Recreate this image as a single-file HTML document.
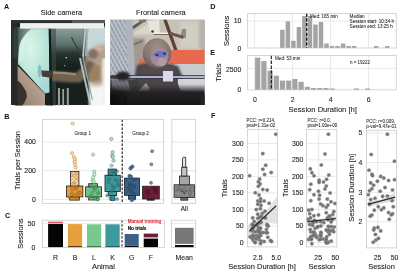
<!DOCTYPE html><html><head><meta charset="utf-8"><style>
html,body{margin:0;padding:0;background:#fff;width:400px;height:273px;overflow:hidden}
svg{display:block}
text{font-family:'Liberation Sans',Arial,sans-serif;fill:#222;stroke:#222;stroke-width:0.09px}
</style></head><body>
<svg width="400" height="273" viewBox="0 0 400 273">
<defs>
<filter id="b1" x="-20%" y="-20%" width="140%" height="140%"><feGaussianBlur stdDeviation="1"/></filter>
<filter id="b2" x="-20%" y="-20%" width="140%" height="140%"><feGaussianBlur stdDeviation="2"/></filter>
<filter id="b3" x="-30%" y="-30%" width="160%" height="160%"><feGaussianBlur stdDeviation="3.5"/></filter>
<filter id="b05"><feGaussianBlur stdDeviation="0.5"/></filter>
<clipPath id="cpA1"><rect x="11" y="20.2" width="94" height="85.3"/></clipPath>
<clipPath id="cpA2"><rect x="110.3" y="19.8" width="94.3" height="85.2"/></clipPath>
<pattern id="mesh" width="3.6" height="3.6" patternUnits="userSpaceOnUse" patternTransform="rotate(-28)">
<rect width="3.6" height="3.6" fill="#949eaa"/><rect width="1.5" height="3.6" fill="#c2c8d0"/></pattern>
<pattern id="mesh2" width="3.6" height="3.6" patternUnits="userSpaceOnUse" patternTransform="rotate(32)">
<rect width="0.9" height="3.6" fill="#c2c8d0"/></pattern>
<pattern id="hatchO" width="2.5" height="2.5" patternUnits="userSpaceOnUse" patternTransform="rotate(45)">
<rect width="2.5" height="2.5" fill="#f6e6d0"/><rect width="1" height="2.5" fill="#e0a050"/></pattern>
</defs>

<text x="4.1" y="9.1" style="font-weight:bold;font-size:7.2px;fill:#111;stroke:none">A</text>
<text x="4.3" y="118.8" style="font-weight:bold;font-size:7.2px;fill:#111;stroke:none">B</text>
<text x="5.0" y="218.3" style="font-weight:bold;font-size:7.2px;fill:#111;stroke:none">C</text>
<text x="210.3" y="9.1" style="font-weight:bold;font-size:7.2px;fill:#111;stroke:none">D</text>
<text x="210.3" y="54.8" style="font-weight:bold;font-size:7.2px;fill:#111;stroke:none">E</text>
<text x="211.1" y="117.6" style="font-weight:bold;font-size:7.2px;fill:#111;stroke:none">F</text>
<text x="40.7" y="15" style="font-size:7.4px">Side camera</text>
<text x="136" y="15.3" style="font-size:7.4px">Frontal camera</text>
<defs><linearGradient id="gMid" x1="0" y1="0" x2="0" y2="1"><stop offset="0" stop-color="#8ca29e"/><stop offset="0.45" stop-color="#5e706c"/><stop offset="0.65" stop-color="#2a3430"/><stop offset="1" stop-color="#18201c"/></linearGradient><linearGradient id="gUL" x1="0" y1="0" x2="1" y2="0"><stop offset="0" stop-color="#4a5e56"/><stop offset="0.3" stop-color="#789288"/><stop offset="1" stop-color="#a2bcb0"/></linearGradient><linearGradient id="gTan" x1="1" y1="0" x2="0" y2="1"><stop offset="0" stop-color="#c8b8ac"/><stop offset="0.5" stop-color="#b09a8a"/><stop offset="1" stop-color="#8a7464"/></linearGradient><radialGradient id="gCy" cx="0.4" cy="0.3" r="0.75"><stop offset="0" stop-color="#dcf4ea"/><stop offset="0.5" stop-color="#c0e8d8"/><stop offset="1" stop-color="#a6d8da"/></radialGradient></defs>
<g clip-path="url(#cpA1)">
<rect x="11" y="20" width="94" height="85" fill="#18201d"/>
<rect x="49" y="27" width="36" height="40" fill="url(#gMid)" filter="url(#b1)"/>
<circle cx="66.3" cy="57.8" r="0.8" fill="#d8e0dc"/><circle cx="64.7" cy="65.7" r="0.6" fill="#b8c4c0"/>
<rect x="86" y="27" width="22" height="30" fill="#c8d8da" filter="url(#b1)"/>
<rect x="89" y="80" width="20" height="28" fill="#f4f6f6" filter="url(#b1)"/>
<path d="M84 60 Q90 46 106 44 L106 84 L92 86 Q86 74 84 60 Z" fill="#ae9e8c" filter="url(#b2)"/>
<ellipse cx="98" cy="49" rx="5" ry="3" fill="#d8b0a2" filter="url(#b1)"/>
<ellipse cx="101" cy="70" rx="4" ry="10" fill="#bca88e" filter="url(#b2)"/>
<ellipse cx="93" cy="54" rx="5" ry="5" fill="#7e7268" filter="url(#b1)"/>
<path d="M86 64 Q94 62 100 66 L100 80 L90 82 Z" fill="#9c8062" filter="url(#b1)"/>
<rect x="102.5" y="58" width="4" height="48" fill="#f2f2f0" filter="url(#b1)"/>
<g filter="url(#b05)" fill="#94a09c"><rect x="58" y="88" width="2" height="18"/><rect x="62.3" y="89" width="1.8" height="17"/><rect x="66.8" y="88" width="2" height="18"/></g>
<rect x="51" y="27" width="5" height="80" fill="#3e4844" opacity="0.6" filter="url(#b05)"/>
<path d="M42 71.5 Q60 70.5 76 73 Q82 68 88 60 L94 63 Q88 78 80 82.5 Q60 83 42 78.5 Z" fill="#706250" filter="url(#b1)"/>
<path d="M44 71.8 Q60 70.5 76 73.2 L76 75.5 Q60 73 44 74 Z" fill="#9a8a70" filter="url(#b05)"/>
<path d="M84.5 28 L86.5 28 L83.8 58 L82 58 Z" fill="#b4c6c4" filter="url(#b05)"/>
<path d="M87.5 28 L88.8 28 L86 56 L84.8 56 Z" fill="#a4b6b4" filter="url(#b05)"/>
<path d="M79 58 L81 58 L91.5 105 L89.5 105 Z" fill="#b0c0be" filter="url(#b05)"/>
<path d="M82.5 58 L83.7 58 L93 100 L91.8 100 Z" fill="#98aaa8" filter="url(#b05)"/>
<path d="M70.8 37.2 L72 37 L83 57.5 L81.8 58 Z" fill="#34423e" filter="url(#b05)"/>
<path d="M14 62 L45 94 L45 106 L14 106 Z" fill="url(#gTan)" filter="url(#b05)"/>
<path d="M18.5 81 Q21 83 24 88 Q27.5 93 26.5 98 Q25 102 22 106 L16 106 L16 82 Z" fill="#3a302a" filter="url(#b05)"/>
<rect x="46" y="92" width="4" height="15" fill="#1c201e" filter="url(#b05)"/>
<rect x="17" y="27" width="32" height="38" fill="url(#gUL)"/>
<rect x="30" y="27" width="19" height="9" fill="#8ea89e" filter="url(#b1)"/>
<path d="M31 29.2 Q44 28.8 48.8 29.2 L49.6 92.5 L45 93.5 L18.2 64 Q17.8 50 20.5 42 Q24 34.5 31 29.2 Z" fill="url(#gCy)" filter="url(#b05)"/>
<path d="M30 31 Q23 37 20.5 45 Q19 54 19.5 62 L23 60 Q23 50 25.5 43 Q27.5 37 30 31 Z" fill="#d8f2e6" filter="url(#b1)"/>
<ellipse cx="39.6" cy="71" rx="1.8" ry="6.5" fill="#86bcc4" filter="url(#b05)"/>
<path d="M48.6 27 L50.8 27 L52.6 107 L50.2 107 Z" fill="#141a18"/>
<path d="M41.3 70.5 L53 71 L53 78 L42 76.5 Z" fill="#463a30" filter="url(#b05)"/>
<rect x="11" y="20" width="6.6" height="85" fill="#252b29"/>
<rect x="13" y="28" width="4.6" height="30" fill="#34403c" filter="url(#b1)"/>
<rect x="11" y="20" width="94" height="3.2" fill="#2c3234"/>
<rect x="72" y="20" width="33" height="3.2" fill="#58605e" filter="url(#b05)"/>
<rect x="20" y="23.1" width="84" height="5.5" fill="#eff1ef"/>
</g>
<defs><linearGradient id="gBot" x1="0" y1="0" x2="0" y2="1"><stop offset="0" stop-color="#2e2c2e" stop-opacity="0"/><stop offset="0.35" stop-color="#242224"/><stop offset="1" stop-color="#141414"/></linearGradient><radialGradient id="gHead" cx="0.5" cy="0.3" r="0.7"><stop offset="0" stop-color="#9e9086"/><stop offset="0.65" stop-color="#847670"/><stop offset="1" stop-color="#62565a"/></radialGradient></defs>
<g clip-path="url(#cpA2)">
<rect x="110" y="19" width="96" height="88" fill="#aaa298"/>
<rect x="130" y="18" width="76" height="34" fill="#c8c2b6" filter="url(#b1)"/>
<rect x="180" y="22" width="18" height="26" fill="#d2cec6" filter="url(#b1)"/>
<rect x="200" y="18" width="6" height="33" fill="#b2b2ae" filter="url(#b1)"/>
<path d="M182 29 L186 29 L186 38 L180 38 Z" fill="#8e8a80" filter="url(#b05)"/>
<path d="M131 27 L144 19 L148 19 L133 29.5 Z" fill="#5e5a50" filter="url(#b05)"/>
<path d="M138 19 L146 19 L146 22 L140 23 Z" fill="#7a766a" filter="url(#b05)"/>
<path d="M131 34.5 L148 24 L150 25 L149 34.5 Z" fill="#dad6c6" filter="url(#b05)"/>
<path d="M147.5 21 L159 20 L160 33 L150 34 Z" fill="#e8e4dc" filter="url(#b05)"/>
<circle cx="152.5" cy="31.5" r="1.3" fill="#3a3630"/>
<rect x="154" y="32.6" width="22" height="1.5" fill="#f0f0f0"/>
<rect x="154" y="34.1" width="22" height="0.8" fill="#5a504a"/>
<path d="M163 19 L166.5 19 L177.5 50 L174 50 Z" fill="#5a4238" filter="url(#b05)"/>
<path d="M170 31.5 L184 36 L183 39 L169 34.5 Z" fill="#6e564c" filter="url(#b05)"/>
<rect x="131" y="38" width="14" height="34" fill="#a29a92" filter="url(#b1)"/>
<path d="M132 44 L142 40 L143 42 L133 46 Z" fill="#7a746c" filter="url(#b05)"/>
<rect x="169.5" y="50" width="36" height="14" fill="#e76a4f" filter="url(#b05)"/>
<rect x="139" y="59.5" width="6" height="6" fill="#e0704e" filter="url(#b05)"/>
<rect x="174" y="64" width="32" height="11" fill="#c8cccc" filter="url(#b05)"/>
<path d="M110 19 L126 19 L128 62 L134 62 L134 76 L110 80 Z" fill="url(#mesh)"/>
<path d="M110 19 L126 19 L128 62 L134 62 L134 76 L110 80 Z" fill="url(#mesh2)" opacity="0.5"/>
<path d="M125.5 19 L132.5 19 L135 74 L128 74 Z" fill="#aeb4ba" filter="url(#b05)"/>
<path d="M137 65 Q156 60 178 66 L184 80 L188 100 L132 100 L134 80 Z" fill="#4a4448" filter="url(#b1)"/>
<path d="M140 66 Q157 62 174 66 L176 74 L140 74 Z" fill="#544c4e" filter="url(#b1)"/>
<ellipse cx="157" cy="53.5" rx="14.2" ry="15.2" fill="url(#gHead)" filter="url(#b05)"/>
<ellipse cx="159.5" cy="57" rx="9" ry="9.5" fill="#a08a96" filter="url(#b05)"/>
<ellipse cx="160" cy="54.3" rx="6.8" ry="3" fill="#6e72bc" filter="url(#b05)"/>
<ellipse cx="162" cy="62" rx="4.5" ry="4" fill="#b69aa2" filter="url(#b05)"/>
<ellipse cx="157" cy="55" rx="1.6" ry="1" fill="#22285a"/>
<ellipse cx="164.5" cy="53.6" rx="1.6" ry="1" fill="#22285a"/>
<path d="M178 79 L206 79 L206 91 L181 91 Q177 85 178 79 Z" fill="#d0d4d8" filter="url(#b05)"/>
<rect x="108" y="79" width="30" height="22" fill="#3e3c3e" filter="url(#b1)"/>
<path d="M111 79 L128 79 L130 91 L113 91 Z" fill="url(#mesh)" opacity="0.45" filter="url(#b05)"/>
<path d="M138.5 91 L146 83 L149.5 88 L148 91.5 Z" fill="#a8a092" filter="url(#b05)"/>
<rect x="108" y="84" width="100" height="24" fill="url(#gBot)"/>
<ellipse cx="112" cy="101" rx="12" ry="10" fill="#101010" filter="url(#b3)"/>
<rect x="200" y="95" width="8" height="12" fill="#202020" filter="url(#b1)"/>
<rect x="110" y="75.2" width="96" height="3.6" fill="#3a3a46" filter="url(#b05)"/>
<rect x="126" y="76.1" width="80" height="1.8" fill="#bcc0e0"/>
<rect x="163" y="71" width="10" height="10.5" fill="#d8d8e8" filter="url(#b05)"/>
<ellipse cx="123" cy="76" rx="7" ry="4.5" fill="#262426" filter="url(#b1)"/>
</g>
<line x1="254.6" y1="13.5" x2="254.6" y2="48.0" stroke="#dadada" stroke-width="0.6"/>
<line x1="292.6" y1="13.5" x2="292.6" y2="48.0" stroke="#dadada" stroke-width="0.6"/>
<line x1="330.6" y1="13.5" x2="330.6" y2="48.0" stroke="#dadada" stroke-width="0.6"/>
<line x1="368.6" y1="13.5" x2="368.6" y2="48.0" stroke="#dadada" stroke-width="0.6"/>
<line x1="247.7" y1="21.1" x2="396.2" y2="21.1" stroke="#dadada" stroke-width="0.6"/>
<rect x="280.10" y="29.8" width="4.5" height="18.20" fill="#a4a4a4"/>
<rect x="285.62" y="21.4" width="4.5" height="26.60" fill="#a4a4a4"/>
<rect x="291.14" y="40.8" width="4.5" height="7.20" fill="#a4a4a4"/>
<rect x="296.66" y="27.0" width="4.5" height="21.00" fill="#a4a4a4"/>
<rect x="302.18" y="16.0" width="4.5" height="32.00" fill="#a4a4a4"/>
<rect x="307.70" y="16.0" width="4.5" height="32.00" fill="#a4a4a4"/>
<rect x="313.22" y="24.5" width="4.5" height="23.50" fill="#a4a4a4"/>
<rect x="318.74" y="22.0" width="4.5" height="26.00" fill="#a4a4a4"/>
<rect x="324.26" y="43.5" width="4.5" height="4.50" fill="#a4a4a4"/>
<rect x="329.78" y="46" width="4.5" height="2.00" fill="#a4a4a4"/>
<rect x="335.30" y="46" width="4.5" height="2.00" fill="#a4a4a4"/>
<rect x="340.82" y="43.5" width="4.5" height="4.50" fill="#a4a4a4"/>
<rect x="346.34" y="46" width="4.5" height="2.00" fill="#a4a4a4"/>
<rect x="351.86" y="46" width="4.5" height="2.00" fill="#a4a4a4"/>
<rect x="373.94" y="46" width="4.5" height="2.00" fill="#a4a4a4"/>
<rect x="384.98" y="46" width="4.5" height="2.00" fill="#a4a4a4"/>
<line x1="306.7" y1="13.5" x2="306.7" y2="48.0" stroke="#111" stroke-width="1.35" stroke-dasharray="3.2,1.6"/>
<rect x="247.7" y="13.5" width="148.5" height="34.5" fill="none" stroke="#c4c4c4" stroke-width="0.7"/>
<text x="310.0" y="18.4" style="font-size:4.6px;stroke-width:0.05px" text-anchor="start" >Med: 165 min</text>
<text x="349.6" y="18.0" style="font-size:4.6px;stroke-width:0.05px" text-anchor="start" >Median</text>
<text x="349.6" y="22.9" style="font-size:4.6px;stroke-width:0.05px" text-anchor="start" >Session start: 10:34 h</text>
<text x="349.6" y="27.8" style="font-size:4.6px;stroke-width:0.05px" text-anchor="start" >Session end: 13:25 h</text>
<text x="241.3" y="23.3" style="font-size:6.9px" text-anchor="end" >10</text>
<text x="241.3" y="50.7" style="font-size:6.9px" text-anchor="end" >0</text>
<text x="0" y="0" style="font-size:7.5px" text-anchor="middle" transform="translate(226.4,30.9) rotate(-90)" dy="0.36em">Sessions</text>
<line x1="254.6" y1="55.6" x2="254.6" y2="89.9" stroke="#dadada" stroke-width="0.6"/>
<line x1="292.6" y1="55.6" x2="292.6" y2="89.9" stroke="#dadada" stroke-width="0.6"/>
<line x1="330.6" y1="55.6" x2="330.6" y2="89.9" stroke="#dadada" stroke-width="0.6"/>
<line x1="368.6" y1="55.6" x2="368.6" y2="89.9" stroke="#dadada" stroke-width="0.6"/>
<line x1="247.7" y1="68.4" x2="396.2" y2="68.4" stroke="#dadada" stroke-width="0.6"/>
<rect x="255.10" y="57.6" width="5.2" height="32.30" fill="#a4a4a4"/>
<rect x="261.30" y="61.1" width="5.2" height="28.80" fill="#a4a4a4"/>
<rect x="267.50" y="70.8" width="5.2" height="19.10" fill="#a4a4a4"/>
<rect x="273.70" y="75.7" width="5.2" height="14.20" fill="#a4a4a4"/>
<rect x="279.90" y="80.6" width="5.2" height="9.30" fill="#a4a4a4"/>
<rect x="286.10" y="80.6" width="5.2" height="9.30" fill="#a4a4a4"/>
<rect x="292.30" y="79.0" width="5.2" height="10.90" fill="#a4a4a4"/>
<rect x="298.50" y="81.8" width="5.2" height="8.10" fill="#a4a4a4"/>
<rect x="304.70" y="86.8" width="5.2" height="3.10" fill="#a4a4a4"/>
<rect x="310.90" y="88.0" width="5.2" height="1.90" fill="#a4a4a4"/>
<rect x="317.10" y="88.0" width="5.2" height="1.90" fill="#a4a4a4"/>
<rect x="323.30" y="88.0" width="5.2" height="1.90" fill="#a4a4a4"/>
<rect x="329.50" y="88.5" width="5.2" height="1.40" fill="#a4a4a4"/>
<rect x="354" y="88.5" width="5" height="1.4" fill="#a4a4a4"/>
<rect x="365" y="88.5" width="5" height="1.4" fill="#a4a4a4"/>
<line x1="271.3" y1="55.6" x2="271.3" y2="89.9" stroke="#111" stroke-width="1.1" stroke-dasharray="3.5,1.4"/>
<rect x="247.7" y="55.6" width="148.5" height="34.300000000000004" fill="none" stroke="#c4c4c4" stroke-width="0.7"/>
<text x="275.0" y="59.7" style="font-size:4.6px;stroke-width:0.05px" text-anchor="start" >Med: 53 min</text>
<text x="349.9" y="64.4" style="font-size:4.5px;stroke-width:0.05px" text-anchor="start" >n = 19222</text>
<text x="241.3" y="71.5" style="font-size:6.9px" text-anchor="end" >2500</text>
<text x="241.3" y="92.0" style="font-size:6.9px" text-anchor="end" >0</text>
<text x="0" y="0" style="font-size:7.5px" text-anchor="middle" transform="translate(218.6,72.6) rotate(-90)" dy="0.36em">Trials</text>
<text x="254.8" y="101.5" style="font-size:6.9px" text-anchor="middle" >0</text>
<text x="292.6" y="101.5" style="font-size:6.9px" text-anchor="middle" >2</text>
<text x="330.6" y="101.5" style="font-size:6.9px" text-anchor="middle" >4</text>
<text x="368.6" y="101.5" style="font-size:6.9px" text-anchor="middle" >6</text>
<text x="322.7" y="112.2" style="font-size:7.6px" text-anchor="middle" >Session Duration [h]</text>
<line x1="42.3" y1="142.0" x2="163.5" y2="142.0" stroke="#dadada" stroke-width="0.6"/>
<line x1="42.3" y1="170.7" x2="163.5" y2="170.7" stroke="#dadada" stroke-width="0.6"/>
<line x1="42.3" y1="199.4" x2="163.5" y2="199.4" stroke="#dadada" stroke-width="0.6"/>
<line x1="171.9" y1="142.0" x2="195.7" y2="142.0" stroke="#dadada" stroke-width="0.6"/>
<line x1="171.9" y1="170.7" x2="195.7" y2="170.7" stroke="#dadada" stroke-width="0.6"/>
<line x1="171.9" y1="199.4" x2="195.7" y2="199.4" stroke="#dadada" stroke-width="0.6"/>
<text x="35.8" y="144.4" style="font-size:6.9px" text-anchor="end" >400</text>
<text x="35.8" y="173.1" style="font-size:6.9px" text-anchor="end" >200</text>
<text x="35.8" y="201.7" style="font-size:6.9px" text-anchor="end" >0</text>
<text x="0" y="0" style="font-size:7.4px" text-anchor="middle" transform="translate(17.4,160.5) rotate(-90)" dy="0.36em">Trials per Session</text>
<text x="82.7" y="135" style="font-size:4.6px;stroke-width:0.05px" text-anchor="middle" >Group 1</text>
<text x="140.6" y="135" style="font-size:4.6px;stroke-width:0.05px" text-anchor="middle" >Group 2</text>
<line x1="122.2" y1="119.6" x2="122.2" y2="203.3" stroke="#1a1a1a" stroke-width="1.1" stroke-dasharray="2.3,1.7"/>
<rect x="69.6" y="196.9" width="9.70" height="3.20" fill="#e39a3e" stroke="#1e1e1e" stroke-width="0.8"/>
<rect x="66.4" y="186.0" width="16.50" height="10.90" fill="#e39a3e" stroke="#1e1e1e" stroke-width="0.8"/>
<rect x="70.5" y="171.4" width="8.4" height="14.6" fill="url(#hatchO)" stroke="#1e1e1e" stroke-width="0.8"/>
<circle cx="71.72" cy="193.71" r="1.5" fill="#d88a2a" stroke="#8a5010" stroke-width="0.5" opacity="0.7"/>
<circle cx="73.17" cy="194.47" r="1.5" fill="#d88a2a" stroke="#8a5010" stroke-width="0.5" opacity="0.7"/>
<circle cx="75.98" cy="187.63" r="1.5" fill="#d88a2a" stroke="#8a5010" stroke-width="0.5" opacity="0.7"/>
<circle cx="69.24" cy="197.44" r="1.5" fill="#d88a2a" stroke="#8a5010" stroke-width="0.5" opacity="0.7"/>
<circle cx="71.95" cy="189.78" r="1.5" fill="#d88a2a" stroke="#8a5010" stroke-width="0.5" opacity="0.7"/>
<circle cx="80.05" cy="192.77" r="1.5" fill="#d88a2a" stroke="#8a5010" stroke-width="0.5" opacity="0.7"/>
<circle cx="78.30" cy="192.85" r="1.5" fill="#d88a2a" stroke="#8a5010" stroke-width="0.5" opacity="0.7"/>
<circle cx="76.13" cy="188.71" r="1.5" fill="#d88a2a" stroke="#8a5010" stroke-width="0.5" opacity="0.7"/>
<circle cx="76.08" cy="197.82" r="1.5" fill="#d88a2a" stroke="#8a5010" stroke-width="0.5" opacity="0.7"/>
<circle cx="74.85" cy="196.21" r="1.5" fill="#d88a2a" stroke="#8a5010" stroke-width="0.5" opacity="0.7"/>
<circle cx="76.49" cy="187.61" r="1.5" fill="#d88a2a" stroke="#8a5010" stroke-width="0.5" opacity="0.7"/>
<circle cx="77.44" cy="194.31" r="1.5" fill="#d88a2a" stroke="#8a5010" stroke-width="0.5" opacity="0.7"/>
<circle cx="72.41" cy="187.19" r="1.5" fill="#d88a2a" stroke="#8a5010" stroke-width="0.5" opacity="0.7"/>
<circle cx="78.62" cy="192.80" r="1.5" fill="#d88a2a" stroke="#8a5010" stroke-width="0.5" opacity="0.7"/>
<circle cx="77.01" cy="197.96" r="1.5" fill="#d88a2a" stroke="#8a5010" stroke-width="0.5" opacity="0.7"/>
<circle cx="76.96" cy="198.50" r="1.5" fill="#d88a2a" stroke="#8a5010" stroke-width="0.5" opacity="0.7"/>
<circle cx="74.07" cy="182.91" r="1.5" fill="#e8b070" stroke="#c07828" stroke-width="0.5" opacity="0.7"/>
<circle cx="74.32" cy="184.66" r="1.5" fill="#e8b070" stroke="#c07828" stroke-width="0.5" opacity="0.7"/>
<circle cx="76.49" cy="173.77" r="1.5" fill="#e8b070" stroke="#c07828" stroke-width="0.5" opacity="0.7"/>
<circle cx="72.78" cy="175.32" r="1.5" fill="#e8b070" stroke="#c07828" stroke-width="0.5" opacity="0.7"/>
<circle cx="76.93" cy="178.17" r="1.5" fill="#e8b070" stroke="#c07828" stroke-width="0.5" opacity="0.7"/>
<circle cx="72.70" cy="123.60" r="1.6" fill="#f6e2c8" stroke="#d89440" stroke-width="0.7" opacity="1"/>
<circle cx="72.10" cy="153.20" r="1.6" fill="#f6e2c8" stroke="#d89440" stroke-width="0.7" opacity="1"/>
<circle cx="73.90" cy="157.10" r="1.6" fill="#f6e2c8" stroke="#d89440" stroke-width="0.7" opacity="1"/>
<circle cx="75.00" cy="159.40" r="1.6" fill="#f6e2c8" stroke="#d89440" stroke-width="0.7" opacity="1"/>
<circle cx="74.60" cy="161.80" r="1.6" fill="#f6e2c8" stroke="#d89440" stroke-width="0.7" opacity="1"/>
<circle cx="75.00" cy="164.40" r="1.6" fill="#f6e2c8" stroke="#d89440" stroke-width="0.7" opacity="1"/>
<circle cx="75.70" cy="167.50" r="1.6" fill="#f6e2c8" stroke="#d89440" stroke-width="0.7" opacity="1"/>
<rect x="88.7" y="196.9" width="8.80" height="3.10" fill="#72c288" stroke="#1e1e1e" stroke-width="0.8"/>
<rect x="85.6" y="186.8" width="15.90" height="10.10" fill="#72c288" stroke="#1e1e1e" stroke-width="0.8"/>
<rect x="88.7" y="183.7" width="8.80" height="3.10" fill="#72c288" stroke="#1e1e1e" stroke-width="0.8"/>
<circle cx="95.12" cy="189.02" r="1.5" fill="#5cb074" stroke="#2a7040" stroke-width="0.5" opacity="0.7"/>
<circle cx="93.69" cy="190.29" r="1.5" fill="#5cb074" stroke="#2a7040" stroke-width="0.5" opacity="0.7"/>
<circle cx="91.81" cy="193.28" r="1.5" fill="#5cb074" stroke="#2a7040" stroke-width="0.5" opacity="0.7"/>
<circle cx="94.61" cy="198.06" r="1.5" fill="#5cb074" stroke="#2a7040" stroke-width="0.5" opacity="0.7"/>
<circle cx="95.78" cy="198.43" r="1.5" fill="#5cb074" stroke="#2a7040" stroke-width="0.5" opacity="0.7"/>
<circle cx="97.88" cy="199.36" r="1.5" fill="#5cb074" stroke="#2a7040" stroke-width="0.5" opacity="0.7"/>
<circle cx="95.66" cy="186.95" r="1.5" fill="#5cb074" stroke="#2a7040" stroke-width="0.5" opacity="0.7"/>
<circle cx="97.93" cy="198.97" r="1.5" fill="#5cb074" stroke="#2a7040" stroke-width="0.5" opacity="0.7"/>
<circle cx="98.46" cy="193.04" r="1.5" fill="#5cb074" stroke="#2a7040" stroke-width="0.5" opacity="0.7"/>
<circle cx="96.17" cy="187.67" r="1.5" fill="#5cb074" stroke="#2a7040" stroke-width="0.5" opacity="0.7"/>
<circle cx="97.58" cy="193.10" r="1.5" fill="#5cb074" stroke="#2a7040" stroke-width="0.5" opacity="0.7"/>
<circle cx="91.02" cy="185.45" r="1.5" fill="#5cb074" stroke="#2a7040" stroke-width="0.5" opacity="0.7"/>
<circle cx="97.85" cy="199.35" r="1.5" fill="#5cb074" stroke="#2a7040" stroke-width="0.5" opacity="0.7"/>
<circle cx="88.66" cy="196.51" r="1.5" fill="#5cb074" stroke="#2a7040" stroke-width="0.5" opacity="0.7"/>
<circle cx="92.53" cy="186.76" r="1.5" fill="#5cb074" stroke="#2a7040" stroke-width="0.5" opacity="0.7"/>
<circle cx="91.13" cy="196.03" r="1.5" fill="#5cb074" stroke="#2a7040" stroke-width="0.5" opacity="0.7"/>
<circle cx="93.10" cy="154.60" r="1.6" fill="#d4ecd8" stroke="#70b080" stroke-width="0.7" opacity="1"/>
<circle cx="94.20" cy="171.70" r="1.6" fill="#d4ecd8" stroke="#70b080" stroke-width="0.7" opacity="1"/>
<circle cx="94.40" cy="174.80" r="1.6" fill="#d4ecd8" stroke="#70b080" stroke-width="0.7" opacity="1"/>
<circle cx="93.20" cy="177.30" r="1.6" fill="#d4ecd8" stroke="#70b080" stroke-width="0.7" opacity="1"/>
<circle cx="92.60" cy="180.20" r="1.6" fill="#d4ecd8" stroke="#70b080" stroke-width="0.7" opacity="1"/>
<circle cx="93.80" cy="181.70" r="1.6" fill="#d4ecd8" stroke="#70b080" stroke-width="0.7" opacity="1"/>
<rect x="110.2" y="195.6" width="4.70" height="4.70" fill="#3f9a9d" stroke="#1e1e1e" stroke-width="0.8"/>
<rect x="108.1" y="191.5" width="8.60" height="4.10" fill="#3f9a9d" stroke="#1e1e1e" stroke-width="0.8"/>
<rect x="105.0" y="175.2" width="15.30" height="16.30" fill="#3f9a9d" stroke="#1e1e1e" stroke-width="0.8"/>
<rect x="108.1" y="169.1" width="8.20" height="6.10" fill="#3f9a9d" stroke="#1e1e1e" stroke-width="0.8"/>
<circle cx="117.07" cy="171.30" r="1.5" fill="#348a8c" stroke="#1a5658" stroke-width="0.5" opacity="0.7"/>
<circle cx="113.97" cy="171.33" r="1.5" fill="#348a8c" stroke="#1a5658" stroke-width="0.5" opacity="0.7"/>
<circle cx="115.22" cy="179.76" r="1.5" fill="#348a8c" stroke="#1a5658" stroke-width="0.5" opacity="0.7"/>
<circle cx="117.17" cy="198.93" r="1.5" fill="#348a8c" stroke="#1a5658" stroke-width="0.5" opacity="0.7"/>
<circle cx="112.67" cy="199.46" r="1.5" fill="#348a8c" stroke="#1a5658" stroke-width="0.5" opacity="0.7"/>
<circle cx="110.32" cy="172.27" r="1.5" fill="#348a8c" stroke="#1a5658" stroke-width="0.5" opacity="0.7"/>
<circle cx="113.80" cy="170.93" r="1.5" fill="#348a8c" stroke="#1a5658" stroke-width="0.5" opacity="0.7"/>
<circle cx="108.97" cy="182.03" r="1.5" fill="#348a8c" stroke="#1a5658" stroke-width="0.5" opacity="0.7"/>
<circle cx="113.93" cy="174.61" r="1.5" fill="#348a8c" stroke="#1a5658" stroke-width="0.5" opacity="0.7"/>
<circle cx="107.11" cy="195.60" r="1.5" fill="#348a8c" stroke="#1a5658" stroke-width="0.5" opacity="0.7"/>
<circle cx="110.37" cy="198.28" r="1.5" fill="#348a8c" stroke="#1a5658" stroke-width="0.5" opacity="0.7"/>
<circle cx="117.36" cy="181.14" r="1.5" fill="#348a8c" stroke="#1a5658" stroke-width="0.5" opacity="0.7"/>
<circle cx="112.12" cy="185.34" r="1.5" fill="#348a8c" stroke="#1a5658" stroke-width="0.5" opacity="0.7"/>
<circle cx="114.33" cy="187.57" r="1.5" fill="#348a8c" stroke="#1a5658" stroke-width="0.5" opacity="0.7"/>
<circle cx="113.31" cy="188.29" r="1.5" fill="#348a8c" stroke="#1a5658" stroke-width="0.5" opacity="0.7"/>
<circle cx="117.89" cy="184.96" r="1.5" fill="#348a8c" stroke="#1a5658" stroke-width="0.5" opacity="0.7"/>
<circle cx="111.77" cy="191.25" r="1.5" fill="#348a8c" stroke="#1a5658" stroke-width="0.5" opacity="0.7"/>
<circle cx="109.45" cy="178.88" r="1.5" fill="#348a8c" stroke="#1a5658" stroke-width="0.5" opacity="0.7"/>
<circle cx="118.33" cy="185.37" r="1.5" fill="#348a8c" stroke="#1a5658" stroke-width="0.5" opacity="0.7"/>
<circle cx="113.18" cy="170.34" r="1.5" fill="#348a8c" stroke="#1a5658" stroke-width="0.5" opacity="0.7"/>
<circle cx="111.30" cy="138.90" r="1.6" fill="#c0d8d8" stroke="#5a9698" stroke-width="0.7" opacity="1"/>
<circle cx="112.60" cy="152.20" r="1.6" fill="#c0d8d8" stroke="#5a9698" stroke-width="0.7" opacity="1"/>
<circle cx="112.20" cy="155.40" r="1.6" fill="#c0d8d8" stroke="#5a9698" stroke-width="0.7" opacity="1"/>
<circle cx="112.80" cy="157.00" r="1.6" fill="#c0d8d8" stroke="#5a9698" stroke-width="0.7" opacity="1"/>
<circle cx="113.50" cy="160.50" r="1.6" fill="#c0d8d8" stroke="#5a9698" stroke-width="0.7" opacity="1"/>
<circle cx="111.50" cy="165.60" r="1.6" fill="#c0d8d8" stroke="#5a9698" stroke-width="0.7" opacity="1"/>
<rect x="128.4" y="195.3" width="7.20" height="3.90" fill="#3c6187" stroke="#1e1e1e" stroke-width="0.8"/>
<rect x="124.4" y="178.1" width="15.20" height="17.20" fill="#3c6187" stroke="#1e1e1e" stroke-width="0.8"/>
<circle cx="130.90" cy="190.72" r="1.5" fill="#355a80" stroke="#1c3450" stroke-width="0.5" opacity="0.7"/>
<circle cx="125.76" cy="191.47" r="1.5" fill="#355a80" stroke="#1c3450" stroke-width="0.5" opacity="0.7"/>
<circle cx="133.72" cy="179.86" r="1.5" fill="#355a80" stroke="#1c3450" stroke-width="0.5" opacity="0.7"/>
<circle cx="133.66" cy="188.34" r="1.5" fill="#355a80" stroke="#1c3450" stroke-width="0.5" opacity="0.7"/>
<circle cx="134.33" cy="185.97" r="1.5" fill="#355a80" stroke="#1c3450" stroke-width="0.5" opacity="0.7"/>
<circle cx="134.69" cy="194.02" r="1.5" fill="#355a80" stroke="#1c3450" stroke-width="0.5" opacity="0.7"/>
<circle cx="125.79" cy="179.87" r="1.5" fill="#355a80" stroke="#1c3450" stroke-width="0.5" opacity="0.7"/>
<circle cx="134.29" cy="198.73" r="1.5" fill="#355a80" stroke="#1c3450" stroke-width="0.5" opacity="0.7"/>
<circle cx="128.76" cy="188.14" r="1.5" fill="#355a80" stroke="#1c3450" stroke-width="0.5" opacity="0.7"/>
<circle cx="133.20" cy="185.29" r="1.5" fill="#355a80" stroke="#1c3450" stroke-width="0.5" opacity="0.7"/>
<circle cx="130.23" cy="185.13" r="1.5" fill="#355a80" stroke="#1c3450" stroke-width="0.5" opacity="0.7"/>
<circle cx="130.30" cy="191.05" r="1.5" fill="#355a80" stroke="#1c3450" stroke-width="0.5" opacity="0.7"/>
<circle cx="129.41" cy="186.48" r="1.5" fill="#355a80" stroke="#1c3450" stroke-width="0.5" opacity="0.7"/>
<circle cx="135.54" cy="179.16" r="1.5" fill="#355a80" stroke="#1c3450" stroke-width="0.5" opacity="0.7"/>
<circle cx="132.90" cy="193.97" r="1.5" fill="#355a80" stroke="#1c3450" stroke-width="0.5" opacity="0.7"/>
<circle cx="129.53" cy="183.25" r="1.5" fill="#355a80" stroke="#1c3450" stroke-width="0.5" opacity="0.7"/>
<circle cx="132.30" cy="166.60" r="1.7" fill="#4a6e94" stroke="#2a4a6a" stroke-width="0.6" opacity="1"/>
<circle cx="130.60" cy="168.30" r="1.7" fill="#4a6e94" stroke="#2a4a6a" stroke-width="0.6" opacity="1"/>
<circle cx="129.60" cy="176.00" r="1.7" fill="#4a6e94" stroke="#2a4a6a" stroke-width="0.6" opacity="1"/>
<circle cx="131.00" cy="176.80" r="1.7" fill="#4a6e94" stroke="#2a4a6a" stroke-width="0.6" opacity="1"/>
<circle cx="131.80" cy="200.00" r="1.7" fill="#4a6e94" stroke="#2a4a6a" stroke-width="0.6" opacity="1"/>
<rect x="147.2" y="199.0" width="7.00" height="1.20" fill="#6d1e3d" stroke="#1e1e1e" stroke-width="0.8"/>
<rect x="142.6" y="186.2" width="16.70" height="12.80" fill="#6d1e3d" stroke="#1e1e1e" stroke-width="0.8"/>
<circle cx="155.15" cy="189.74" r="1.5" fill="#621a36" stroke="#3a0c1e" stroke-width="0.5" opacity="0.7"/>
<circle cx="146.52" cy="192.01" r="1.5" fill="#621a36" stroke="#3a0c1e" stroke-width="0.5" opacity="0.7"/>
<circle cx="153.67" cy="188.17" r="1.5" fill="#621a36" stroke="#3a0c1e" stroke-width="0.5" opacity="0.7"/>
<circle cx="148.41" cy="190.84" r="1.5" fill="#621a36" stroke="#3a0c1e" stroke-width="0.5" opacity="0.7"/>
<circle cx="155.57" cy="192.04" r="1.5" fill="#621a36" stroke="#3a0c1e" stroke-width="0.5" opacity="0.7"/>
<circle cx="155.88" cy="188.95" r="1.5" fill="#621a36" stroke="#3a0c1e" stroke-width="0.5" opacity="0.7"/>
<circle cx="148.61" cy="194.48" r="1.5" fill="#621a36" stroke="#3a0c1e" stroke-width="0.5" opacity="0.7"/>
<circle cx="156.29" cy="192.19" r="1.5" fill="#621a36" stroke="#3a0c1e" stroke-width="0.5" opacity="0.7"/>
<circle cx="152.10" cy="151.20" r="1.5" fill="#a08a94" stroke="#6a4a56" stroke-width="0.6" opacity="1"/>
<circle cx="151.40" cy="164.30" r="1.5" fill="#a08a94" stroke="#6a4a56" stroke-width="0.6" opacity="1"/>
<circle cx="151.00" cy="182.80" r="1.5" fill="#a08a94" stroke="#6a4a56" stroke-width="0.6" opacity="1"/>
<rect x="180.8" y="197.6" width="7.00" height="2.60" fill="#6a6a6a" stroke="#1e1e1e" stroke-width="0.7"/>
<rect x="174.1" y="184.8" width="20.40" height="12.80" fill="#8a8a8a" stroke="#1e1e1e" stroke-width="0.8"/>
<rect x="179.4" y="176.0" width="10.20" height="8.80" fill="#a6a6a6" stroke="#1e1e1e" stroke-width="0.8"/>
<rect x="181.7" y="167.2" width="5.20" height="8.80" fill="#c4c4c4" stroke="#1e1e1e" stroke-width="0.8"/>
<path d="M182.5 167.2 L182.5 158.5 L183.3 157.2 L185.7 157.2 L185.7 167.2 Z" fill="#e2e2e2" stroke="#1e1e1e" stroke-width="0.8"/>
<circle cx="179.35" cy="186.89" r="1.5" fill="#808080" stroke="#5a5a5a" stroke-width="0.5" opacity="0.7"/>
<circle cx="184.83" cy="187.69" r="1.5" fill="#808080" stroke="#5a5a5a" stroke-width="0.5" opacity="0.7"/>
<circle cx="189.82" cy="195.14" r="1.5" fill="#808080" stroke="#5a5a5a" stroke-width="0.5" opacity="0.7"/>
<circle cx="178.60" cy="188.70" r="1.5" fill="#808080" stroke="#5a5a5a" stroke-width="0.5" opacity="0.7"/>
<circle cx="189.83" cy="192.88" r="1.5" fill="#808080" stroke="#5a5a5a" stroke-width="0.5" opacity="0.7"/>
<circle cx="189.81" cy="189.47" r="1.5" fill="#808080" stroke="#5a5a5a" stroke-width="0.5" opacity="0.7"/>
<circle cx="177.63" cy="188.86" r="1.5" fill="#808080" stroke="#5a5a5a" stroke-width="0.5" opacity="0.7"/>
<circle cx="189.59" cy="188.62" r="1.5" fill="#808080" stroke="#5a5a5a" stroke-width="0.5" opacity="0.7"/>
<circle cx="181.53" cy="190.29" r="1.5" fill="#808080" stroke="#5a5a5a" stroke-width="0.5" opacity="0.7"/>
<circle cx="182.86" cy="190.21" r="1.5" fill="#808080" stroke="#5a5a5a" stroke-width="0.5" opacity="0.7"/>
<circle cx="191.87" cy="187.29" r="1.5" fill="#808080" stroke="#5a5a5a" stroke-width="0.5" opacity="0.7"/>
<circle cx="175.38" cy="196.35" r="1.5" fill="#808080" stroke="#5a5a5a" stroke-width="0.5" opacity="0.7"/>
<line x1="174.1" y1="190.8" x2="194.5" y2="190.8" stroke="#5a5a5a" stroke-width="0.5"/>
<path d="M181.5 190.8 L184.3 193 L187 190.8 M184.3 193 L184.3 194.6" stroke="#333" stroke-width="0.8" fill="none"/>
<rect x="42.3" y="119.6" width="121.2" height="83.70000000000002" fill="none" stroke="#c4c4c4" stroke-width="0.7"/>
<rect x="171.9" y="119.6" width="23.799999999999983" height="83.70000000000002" fill="none" stroke="#c4c4c4" stroke-width="0.7"/>
<text x="184.4" y="210.8" style="font-size:6.4px" text-anchor="middle" >All</text>
<line x1="42.3" y1="223.3" x2="164.3" y2="223.3" stroke="#dadada" stroke-width="0.6"/>
<line x1="171.5" y1="223.3" x2="195.6" y2="223.3" stroke="#dadada" stroke-width="0.6"/>
<rect x="48.1" y="221.6" width="14.90" height="1.80" fill="#e05a64"/>
<rect x="48.1" y="224.0" width="14.90" height="23.20" fill="#050505"/>
<rect x="67.9" y="224.1" width="14.20" height="23.10" fill="#e89f3e"/>
<rect x="67.9" y="246.2" width="14.20" height="1.00" fill="#3a2a10"/>
<rect x="86.9" y="224.3" width="14.30" height="22.90" fill="#78c98f"/>
<rect x="86.9" y="246.4" width="14.30" height="0.80" fill="#2a4a32"/>
<rect x="105.4" y="224.3" width="14.30" height="22.90" fill="#3f9a9d"/>
<rect x="105.4" y="246.4" width="14.30" height="0.80" fill="#1a3a3a"/>
<rect x="124.7" y="234.0" width="14.00" height="11.30" fill="#3c6187"/>
<rect x="124.7" y="245.5" width="14.00" height="1.70" fill="#0a0a10"/>
<rect x="143.7" y="233.6" width="14.30" height="3.80" fill="#6d1e3d"/>
<rect x="143.7" y="238.6" width="14.30" height="8.60" fill="#050505"/>
<rect x="175.0" y="227.8" width="18.60" height="16.10" fill="#777777"/>
<rect x="175.0" y="245.0" width="18.60" height="2.20" fill="#080808"/>
<line x1="122" y1="220.2" x2="122" y2="247.6" stroke="#1a1a1a" stroke-width="1.1" stroke-dasharray="2.3,1.7"/>
<rect x="42.3" y="220.2" width="122.00000000000001" height="27.400000000000006" fill="none" stroke="#c4c4c4" stroke-width="0.7"/>
<rect x="171.5" y="220.2" width="24.099999999999994" height="27.400000000000006" fill="none" stroke="#c4c4c4" stroke-width="0.7"/>
<text x="127.7" y="223.4" style="font-size:4.55px;font-weight:bold;fill:#e03a4a;stroke:#e03a4a;stroke-width:0.1px">Manual training</text>
<text x="127.7" y="230.0" style="font-size:4.7px;font-weight:bold;fill:#111;stroke:#111;stroke-width:0.15px">No trials</text>
<text x="35.4" y="226.2" style="font-size:6.9px" text-anchor="end" >50</text>
<text x="35.4" y="249.9" style="font-size:6.9px" text-anchor="end" >0</text>
<text x="0" y="0" style="font-size:7.5px" text-anchor="middle" transform="translate(20.7,233.6) rotate(-90)" dy="0.36em">Sessions</text>
<text x="55.6" y="259.6" style="font-size:6.9px" text-anchor="middle" >R</text>
<text x="75.0" y="259.6" style="font-size:6.9px" text-anchor="middle" >B</text>
<text x="94.0" y="259.6" style="font-size:6.9px" text-anchor="middle" >L</text>
<text x="112.6" y="259.6" style="font-size:6.9px" text-anchor="middle" >K</text>
<text x="131.7" y="259.6" style="font-size:6.9px" text-anchor="middle" >G</text>
<text x="150.8" y="259.6" style="font-size:6.9px" text-anchor="middle" >F</text>
<text x="184.2" y="259.6" style="font-size:6.9px" text-anchor="middle" >Mean</text>
<text x="103.4" y="269.0" style="font-size:7.5px" text-anchor="middle" >Animal</text>
<line x1="247.4" y1="242.4" x2="277.3" y2="242.4" stroke="#dadada" stroke-width="0.6"/>
<line x1="247.4" y1="225.9" x2="277.3" y2="225.9" stroke="#dadada" stroke-width="0.6"/>
<line x1="247.4" y1="209.4" x2="277.3" y2="209.4" stroke="#dadada" stroke-width="0.6"/>
<line x1="247.4" y1="192.9" x2="277.3" y2="192.9" stroke="#dadada" stroke-width="0.6"/>
<line x1="247.4" y1="176.4" x2="277.3" y2="176.4" stroke="#dadada" stroke-width="0.6"/>
<line x1="247.4" y1="159.9" x2="277.3" y2="159.9" stroke="#dadada" stroke-width="0.6"/>
<line x1="247.4" y1="143.4" x2="277.3" y2="143.4" stroke="#dadada" stroke-width="0.6"/>
<line x1="306.4" y1="242.4" x2="336.8" y2="242.4" stroke="#dadada" stroke-width="0.6"/>
<line x1="306.4" y1="225.9" x2="336.8" y2="225.9" stroke="#dadada" stroke-width="0.6"/>
<line x1="306.4" y1="209.4" x2="336.8" y2="209.4" stroke="#dadada" stroke-width="0.6"/>
<line x1="306.4" y1="192.9" x2="336.8" y2="192.9" stroke="#dadada" stroke-width="0.6"/>
<line x1="306.4" y1="176.4" x2="336.8" y2="176.4" stroke="#dadada" stroke-width="0.6"/>
<line x1="306.4" y1="159.9" x2="336.8" y2="159.9" stroke="#dadada" stroke-width="0.6"/>
<line x1="306.4" y1="143.4" x2="336.8" y2="143.4" stroke="#dadada" stroke-width="0.6"/>
<line x1="258.5" y1="129.3" x2="258.5" y2="246.9" stroke="#dadada" stroke-width="0.6"/>
<line x1="318.7" y1="129.3" x2="318.7" y2="246.9" stroke="#dadada" stroke-width="0.6"/>
<line x1="377.7" y1="130.2" x2="377.7" y2="247.9" stroke="#dadada" stroke-width="0.6"/>
<line x1="366.4" y1="133.0" x2="396.4" y2="133.0" stroke="#dadada" stroke-width="0.6"/>
<line x1="366.4" y1="162.6" x2="396.4" y2="162.6" stroke="#dadada" stroke-width="0.6"/>
<line x1="366.4" y1="192.3" x2="396.4" y2="192.3" stroke="#dadada" stroke-width="0.6"/>
<line x1="366.4" y1="221.8" x2="396.4" y2="221.8" stroke="#dadada" stroke-width="0.6"/>
<text x="243.6" y="244.8" style="font-size:6.9px" text-anchor="end" >0</text>
<text x="303.4" y="244.8" style="font-size:6.9px" text-anchor="end" >0</text>
<text x="243.6" y="228.3" style="font-size:6.9px" text-anchor="end" >50</text>
<text x="303.4" y="228.3" style="font-size:6.9px" text-anchor="end" >50</text>
<text x="243.6" y="211.8" style="font-size:6.9px" text-anchor="end" >100</text>
<text x="303.4" y="211.8" style="font-size:6.9px" text-anchor="end" >100</text>
<text x="243.6" y="195.3" style="font-size:6.9px" text-anchor="end" >150</text>
<text x="303.4" y="195.3" style="font-size:6.9px" text-anchor="end" >150</text>
<text x="243.6" y="178.8" style="font-size:6.9px" text-anchor="end" >200</text>
<text x="303.4" y="178.8" style="font-size:6.9px" text-anchor="end" >200</text>
<text x="243.6" y="162.3" style="font-size:6.9px" text-anchor="end" >250</text>
<text x="303.4" y="162.3" style="font-size:6.9px" text-anchor="end" >250</text>
<text x="243.6" y="145.8" style="font-size:6.9px" text-anchor="end" >300</text>
<text x="303.4" y="145.8" style="font-size:6.9px" text-anchor="end" >300</text>
<text x="362.4" y="135.4" style="font-size:6.9px" text-anchor="end" >5</text>
<text x="362.4" y="165.0" style="font-size:6.9px" text-anchor="end" >4</text>
<text x="362.4" y="194.70000000000002" style="font-size:6.9px" text-anchor="end" >3</text>
<text x="362.4" y="224.20000000000002" style="font-size:6.9px" text-anchor="end" >2</text>
<text x="257.8" y="259.6" style="font-size:6.9px" text-anchor="middle" >2.5</text>
<text x="276.4" y="259.6" style="font-size:6.9px" text-anchor="middle" >5.0</text>
<text x="318.2" y="259.6" style="font-size:6.9px" text-anchor="middle" >25</text>
<text x="335.3" y="259.6" style="font-size:6.9px" text-anchor="middle" >50</text>
<text x="377.6" y="259.6" style="font-size:6.9px" text-anchor="middle" >25</text>
<text x="394.6" y="259.6" style="font-size:6.9px" text-anchor="middle" >50</text>
<text x="262" y="269.4" style="font-size:7.5px" text-anchor="middle" >Session Duration [h]</text>
<text x="321.9" y="269.4" style="font-size:7.5px" text-anchor="middle" >Session</text>
<text x="381.5" y="269.4" style="font-size:7.5px" text-anchor="middle" >Session</text>
<text x="0" y="0" style="font-size:7.4px" text-anchor="middle" transform="translate(224.5,188.3) rotate(-90)" dy="0.36em">Trials</text>
<text x="0" y="0" style="font-size:7.4px" text-anchor="middle" transform="translate(285.8,188.0) rotate(-90)" dy="0.36em">Trials</text>
<text x="0" y="0" style="font-size:7.55px" text-anchor="middle" transform="translate(351.2,187.8) rotate(-90)" dy="0.36em">Session Duration [h]</text>
<text x="246.6" y="122.0" style="font-size:4.5px;stroke-width:0.05px" text-anchor="start" >PCC: r=0.214,</text>
<text x="246.6" y="127.0" style="font-size:4.5px;stroke-width:0.05px" text-anchor="start" >pval=1.31e-02</text>
<text x="307.4" y="122.3" style="font-size:4.5px;stroke-width:0.05px" text-anchor="start" >PCC: r=0.0,</text>
<text x="307.4" y="127.0" style="font-size:4.5px;stroke-width:0.05px" text-anchor="start" >pval=1.00e+00</text>
<text x="366.3" y="122.6" style="font-size:4.5px;stroke-width:0.05px" text-anchor="start" >PCC: r=0.009,</text>
<text x="366.3" y="127.5" style="font-size:4.5px;stroke-width:0.05px" text-anchor="start" >p-val=9.47e-01</text>
<path d="M248.0 225.0 L256.0 220.5 L262.0 215.5 L270.0 206.0 L277.3 196.0 L277.3 224.0 L270.0 223.0 L262.0 226.0 L256.0 230.0 L248.0 238.0 Z" fill="#cccccc" opacity="0.55"/>
<circle cx="275.8" cy="134.2" r="1.8" fill="#6a6a6a" stroke="#9a9a9a" stroke-width="0.4" opacity="0.92"/>
<circle cx="262.8" cy="153.6" r="1.8" fill="#6a6a6a" stroke="#9a9a9a" stroke-width="0.4" opacity="0.92"/>
<circle cx="265.7" cy="165.3" r="1.8" fill="#6a6a6a" stroke="#9a9a9a" stroke-width="0.4" opacity="0.92"/>
<circle cx="262.8" cy="169.2" r="1.8" fill="#6a6a6a" stroke="#9a9a9a" stroke-width="0.4" opacity="0.92"/>
<circle cx="264.6" cy="174.5" r="1.8" fill="#6a6a6a" stroke="#9a9a9a" stroke-width="0.4" opacity="0.92"/>
<circle cx="271.2" cy="172.5" r="1.8" fill="#6a6a6a" stroke="#9a9a9a" stroke-width="0.4" opacity="0.92"/>
<circle cx="249.6" cy="175.8" r="1.8" fill="#6a6a6a" stroke="#9a9a9a" stroke-width="0.4" opacity="0.92"/>
<circle cx="259.7" cy="179.1" r="1.8" fill="#6a6a6a" stroke="#9a9a9a" stroke-width="0.4" opacity="0.92"/>
<circle cx="258.4" cy="181.8" r="1.8" fill="#6a6a6a" stroke="#9a9a9a" stroke-width="0.4" opacity="0.92"/>
<circle cx="260.2" cy="184.0" r="1.8" fill="#6a6a6a" stroke="#9a9a9a" stroke-width="0.4" opacity="0.92"/>
<circle cx="258.4" cy="186.2" r="1.8" fill="#6a6a6a" stroke="#9a9a9a" stroke-width="0.4" opacity="0.92"/>
<circle cx="262.8" cy="189.5" r="1.8" fill="#6a6a6a" stroke="#9a9a9a" stroke-width="0.4" opacity="0.92"/>
<circle cx="267.2" cy="190.1" r="1.8" fill="#6a6a6a" stroke="#9a9a9a" stroke-width="0.4" opacity="0.92"/>
<circle cx="255.3" cy="192.7" r="1.8" fill="#6a6a6a" stroke="#9a9a9a" stroke-width="0.4" opacity="0.92"/>
<circle cx="259.0" cy="195.0" r="1.8" fill="#6a6a6a" stroke="#9a9a9a" stroke-width="0.4" opacity="0.92"/>
<circle cx="260.6" cy="198.9" r="1.8" fill="#6a6a6a" stroke="#9a9a9a" stroke-width="0.4" opacity="0.92"/>
<circle cx="257.8" cy="201.0" r="1.8" fill="#6a6a6a" stroke="#9a9a9a" stroke-width="0.4" opacity="0.92"/>
<circle cx="260.4" cy="201.7" r="1.8" fill="#6a6a6a" stroke="#9a9a9a" stroke-width="0.4" opacity="0.92"/>
<circle cx="264.2" cy="201.0" r="1.8" fill="#6a6a6a" stroke="#9a9a9a" stroke-width="0.4" opacity="0.92"/>
<circle cx="269.1" cy="203.2" r="1.8" fill="#6a6a6a" stroke="#9a9a9a" stroke-width="0.4" opacity="0.92"/>
<circle cx="257.8" cy="204.2" r="1.8" fill="#6a6a6a" stroke="#9a9a9a" stroke-width="0.4" opacity="0.92"/>
<circle cx="261.0" cy="205.5" r="1.8" fill="#6a6a6a" stroke="#9a9a9a" stroke-width="0.4" opacity="0.92"/>
<circle cx="256.3" cy="209.6" r="1.8" fill="#6a6a6a" stroke="#9a9a9a" stroke-width="0.4" opacity="0.92"/>
<circle cx="260.4" cy="208.7" r="1.8" fill="#6a6a6a" stroke="#9a9a9a" stroke-width="0.4" opacity="0.92"/>
<circle cx="264.9" cy="211.3" r="1.8" fill="#6a6a6a" stroke="#9a9a9a" stroke-width="0.4" opacity="0.92"/>
<circle cx="257.8" cy="214.2" r="1.8" fill="#6a6a6a" stroke="#9a9a9a" stroke-width="0.4" opacity="0.92"/>
<circle cx="262.3" cy="213.2" r="1.8" fill="#6a6a6a" stroke="#9a9a9a" stroke-width="0.4" opacity="0.92"/>
<circle cx="261.4" cy="216.4" r="1.8" fill="#6a6a6a" stroke="#9a9a9a" stroke-width="0.4" opacity="0.92"/>
<circle cx="257.8" cy="218.3" r="1.8" fill="#6a6a6a" stroke="#9a9a9a" stroke-width="0.4" opacity="0.92"/>
<circle cx="265.5" cy="218.0" r="1.8" fill="#6a6a6a" stroke="#9a9a9a" stroke-width="0.4" opacity="0.92"/>
<circle cx="260.6" cy="243.6" r="1.8" fill="#6a6a6a" stroke="#9a9a9a" stroke-width="0.4" opacity="0.92"/>
<circle cx="255.2" cy="242.6" r="1.8" fill="#6a6a6a" stroke="#9a9a9a" stroke-width="0.4" opacity="0.92"/>
<circle cx="261.1" cy="222.2" r="1.8" fill="#6a6a6a" stroke="#9a9a9a" stroke-width="0.4" opacity="0.92"/>
<circle cx="258.9" cy="239.4" r="1.8" fill="#6a6a6a" stroke="#9a9a9a" stroke-width="0.4" opacity="0.92"/>
<circle cx="258.0" cy="230.5" r="1.8" fill="#6a6a6a" stroke="#9a9a9a" stroke-width="0.4" opacity="0.92"/>
<circle cx="253.5" cy="225.5" r="1.8" fill="#6a6a6a" stroke="#9a9a9a" stroke-width="0.4" opacity="0.92"/>
<circle cx="252.7" cy="217.9" r="1.8" fill="#6a6a6a" stroke="#9a9a9a" stroke-width="0.4" opacity="0.92"/>
<circle cx="257.1" cy="224.0" r="1.8" fill="#6a6a6a" stroke="#9a9a9a" stroke-width="0.4" opacity="0.92"/>
<circle cx="259.7" cy="217.3" r="1.8" fill="#6a6a6a" stroke="#9a9a9a" stroke-width="0.4" opacity="0.92"/>
<circle cx="260.8" cy="235.4" r="1.8" fill="#6a6a6a" stroke="#9a9a9a" stroke-width="0.4" opacity="0.92"/>
<circle cx="261.1" cy="241.1" r="1.8" fill="#6a6a6a" stroke="#9a9a9a" stroke-width="0.4" opacity="0.92"/>
<circle cx="260.8" cy="232.2" r="1.8" fill="#6a6a6a" stroke="#9a9a9a" stroke-width="0.4" opacity="0.92"/>
<circle cx="250.2" cy="236.9" r="1.8" fill="#6a6a6a" stroke="#9a9a9a" stroke-width="0.4" opacity="0.92"/>
<circle cx="252.1" cy="224.4" r="1.8" fill="#6a6a6a" stroke="#9a9a9a" stroke-width="0.4" opacity="0.92"/>
<circle cx="258.0" cy="230.7" r="1.8" fill="#6a6a6a" stroke="#9a9a9a" stroke-width="0.4" opacity="0.92"/>
<circle cx="255.0" cy="242.3" r="1.8" fill="#6a6a6a" stroke="#9a9a9a" stroke-width="0.4" opacity="0.92"/>
<circle cx="257.3" cy="225.6" r="1.8" fill="#6a6a6a" stroke="#9a9a9a" stroke-width="0.4" opacity="0.92"/>
<circle cx="253.0" cy="240.1" r="1.8" fill="#6a6a6a" stroke="#9a9a9a" stroke-width="0.4" opacity="0.92"/>
<circle cx="255.7" cy="237.9" r="1.8" fill="#6a6a6a" stroke="#9a9a9a" stroke-width="0.4" opacity="0.92"/>
<circle cx="254.2" cy="221.5" r="1.8" fill="#6a6a6a" stroke="#9a9a9a" stroke-width="0.4" opacity="0.92"/>
<circle cx="256.4" cy="238.9" r="1.8" fill="#6a6a6a" stroke="#9a9a9a" stroke-width="0.4" opacity="0.92"/>
<circle cx="252.1" cy="238.2" r="1.8" fill="#6a6a6a" stroke="#9a9a9a" stroke-width="0.4" opacity="0.92"/>
<circle cx="270.4" cy="240.5" r="1.8" fill="#6a6a6a" stroke="#9a9a9a" stroke-width="0.4" opacity="0.92"/>
<circle cx="268.3" cy="226.1" r="1.8" fill="#6a6a6a" stroke="#9a9a9a" stroke-width="0.4" opacity="0.92"/>
<circle cx="264.2" cy="241.5" r="1.8" fill="#6a6a6a" stroke="#9a9a9a" stroke-width="0.4" opacity="0.92"/>
<circle cx="252.0" cy="230.9" r="1.8" fill="#6a6a6a" stroke="#9a9a9a" stroke-width="0.4" opacity="0.92"/>
<circle cx="256.6" cy="235.5" r="1.8" fill="#6a6a6a" stroke="#9a9a9a" stroke-width="0.4" opacity="0.92"/>
<circle cx="259.9" cy="234.5" r="1.8" fill="#6a6a6a" stroke="#9a9a9a" stroke-width="0.4" opacity="0.92"/>
<circle cx="267.3" cy="226.0" r="1.8" fill="#6a6a6a" stroke="#9a9a9a" stroke-width="0.4" opacity="0.92"/>
<circle cx="252.2" cy="228.3" r="1.8" fill="#6a6a6a" stroke="#9a9a9a" stroke-width="0.4" opacity="0.92"/>
<circle cx="253.6" cy="227.2" r="1.8" fill="#6a6a6a" stroke="#9a9a9a" stroke-width="0.4" opacity="0.92"/>
<circle cx="271.5" cy="241.4" r="1.8" fill="#6a6a6a" stroke="#9a9a9a" stroke-width="0.4" opacity="0.92"/>
<circle cx="252.8" cy="235.0" r="1.8" fill="#6a6a6a" stroke="#9a9a9a" stroke-width="0.4" opacity="0.92"/>
<circle cx="257.6" cy="231.7" r="1.8" fill="#6a6a6a" stroke="#9a9a9a" stroke-width="0.4" opacity="0.92"/>
<circle cx="258.4" cy="237.6" r="1.8" fill="#6a6a6a" stroke="#9a9a9a" stroke-width="0.4" opacity="0.92"/>
<circle cx="263.3" cy="232.5" r="1.8" fill="#6a6a6a" stroke="#9a9a9a" stroke-width="0.4" opacity="0.92"/>
<circle cx="255.0" cy="231.9" r="1.8" fill="#6a6a6a" stroke="#9a9a9a" stroke-width="0.4" opacity="0.92"/>
<circle cx="253.6" cy="236.0" r="1.8" fill="#6a6a6a" stroke="#9a9a9a" stroke-width="0.4" opacity="0.92"/>
<circle cx="266.0" cy="232.8" r="1.8" fill="#6a6a6a" stroke="#9a9a9a" stroke-width="0.4" opacity="0.92"/>
<circle cx="252.7" cy="229.2" r="1.8" fill="#6a6a6a" stroke="#9a9a9a" stroke-width="0.4" opacity="0.92"/>
<circle cx="258.8" cy="236.9" r="1.8" fill="#6a6a6a" stroke="#9a9a9a" stroke-width="0.4" opacity="0.92"/>
<circle cx="267.4" cy="232.8" r="1.8" fill="#6a6a6a" stroke="#9a9a9a" stroke-width="0.4" opacity="0.92"/>
<circle cx="267.8" cy="237.2" r="1.8" fill="#6a6a6a" stroke="#9a9a9a" stroke-width="0.4" opacity="0.92"/>
<circle cx="260.1" cy="232.7" r="1.8" fill="#6a6a6a" stroke="#9a9a9a" stroke-width="0.4" opacity="0.92"/>
<circle cx="259.9" cy="228.4" r="1.8" fill="#6a6a6a" stroke="#9a9a9a" stroke-width="0.4" opacity="0.92"/>
<circle cx="258.7" cy="228.3" r="1.8" fill="#6a6a6a" stroke="#9a9a9a" stroke-width="0.4" opacity="0.92"/>
<circle cx="259.4" cy="222.9" r="1.8" fill="#6a6a6a" stroke="#9a9a9a" stroke-width="0.4" opacity="0.92"/>
<circle cx="260.6" cy="228.3" r="1.8" fill="#6a6a6a" stroke="#9a9a9a" stroke-width="0.4" opacity="0.92"/>
<circle cx="253.1" cy="225.1" r="1.8" fill="#6a6a6a" stroke="#9a9a9a" stroke-width="0.4" opacity="0.92"/>
<circle cx="258.8" cy="230.6" r="1.8" fill="#6a6a6a" stroke="#9a9a9a" stroke-width="0.4" opacity="0.92"/>
<circle cx="267.0" cy="224.5" r="1.8" fill="#6a6a6a" stroke="#9a9a9a" stroke-width="0.4" opacity="0.92"/>
<circle cx="266.4" cy="229.5" r="1.8" fill="#6a6a6a" stroke="#9a9a9a" stroke-width="0.4" opacity="0.92"/>
<line x1="249.2" y1="231.3" x2="276.2" y2="205.8" stroke="#2a2a2a" stroke-width="1.2"/>
<path d="M307.0 220.2 L321.0 219.0 L336.0 216.2 L336.0 221.0 L321.0 222.0 L307.0 223.2 Z" fill="#bdbdbd" opacity="0.55"/>
<circle cx="328.4" cy="134.2" r="1.8" fill="#6a6a6a" stroke="#9a9a9a" stroke-width="0.4" opacity="0.92"/>
<circle cx="325.0" cy="154.0" r="1.8" fill="#6a6a6a" stroke="#9a9a9a" stroke-width="0.4" opacity="0.92"/>
<circle cx="321.3" cy="165.0" r="1.8" fill="#6a6a6a" stroke="#9a9a9a" stroke-width="0.4" opacity="0.92"/>
<circle cx="310.3" cy="168.9" r="1.8" fill="#6a6a6a" stroke="#9a9a9a" stroke-width="0.4" opacity="0.92"/>
<circle cx="311.9" cy="172.7" r="1.8" fill="#6a6a6a" stroke="#9a9a9a" stroke-width="0.4" opacity="0.92"/>
<circle cx="314.0" cy="175.8" r="1.8" fill="#6a6a6a" stroke="#9a9a9a" stroke-width="0.4" opacity="0.92"/>
<circle cx="328.8" cy="175.0" r="1.8" fill="#6a6a6a" stroke="#9a9a9a" stroke-width="0.4" opacity="0.92"/>
<circle cx="319.1" cy="180.2" r="1.8" fill="#6a6a6a" stroke="#9a9a9a" stroke-width="0.4" opacity="0.92"/>
<circle cx="319.1" cy="182.4" r="1.8" fill="#6a6a6a" stroke="#9a9a9a" stroke-width="0.4" opacity="0.92"/>
<circle cx="323.5" cy="182.0" r="1.8" fill="#6a6a6a" stroke="#9a9a9a" stroke-width="0.4" opacity="0.92"/>
<circle cx="326.6" cy="179.3" r="1.8" fill="#6a6a6a" stroke="#9a9a9a" stroke-width="0.4" opacity="0.92"/>
<circle cx="310.8" cy="184.2" r="1.8" fill="#6a6a6a" stroke="#9a9a9a" stroke-width="0.4" opacity="0.92"/>
<circle cx="326.2" cy="186.0" r="1.8" fill="#6a6a6a" stroke="#9a9a9a" stroke-width="0.4" opacity="0.92"/>
<circle cx="325.0" cy="189.0" r="1.8" fill="#6a6a6a" stroke="#9a9a9a" stroke-width="0.4" opacity="0.92"/>
<circle cx="309.7" cy="189.7" r="1.8" fill="#6a6a6a" stroke="#9a9a9a" stroke-width="0.4" opacity="0.92"/>
<circle cx="318.5" cy="191.2" r="1.8" fill="#6a6a6a" stroke="#9a9a9a" stroke-width="0.4" opacity="0.92"/>
<circle cx="314.0" cy="194.7" r="1.8" fill="#6a6a6a" stroke="#9a9a9a" stroke-width="0.4" opacity="0.92"/>
<circle cx="330.1" cy="193.0" r="1.8" fill="#6a6a6a" stroke="#9a9a9a" stroke-width="0.4" opacity="0.92"/>
<circle cx="319.6" cy="195.2" r="1.8" fill="#6a6a6a" stroke="#9a9a9a" stroke-width="0.4" opacity="0.92"/>
<circle cx="319.1" cy="199.1" r="1.8" fill="#6a6a6a" stroke="#9a9a9a" stroke-width="0.4" opacity="0.92"/>
<circle cx="310.8" cy="200.7" r="1.8" fill="#6a6a6a" stroke="#9a9a9a" stroke-width="0.4" opacity="0.92"/>
<circle cx="327.3" cy="199.1" r="1.8" fill="#6a6a6a" stroke="#9a9a9a" stroke-width="0.4" opacity="0.92"/>
<circle cx="331.0" cy="201.8" r="1.8" fill="#6a6a6a" stroke="#9a9a9a" stroke-width="0.4" opacity="0.92"/>
<circle cx="320.7" cy="204.0" r="1.8" fill="#6a6a6a" stroke="#9a9a9a" stroke-width="0.4" opacity="0.92"/>
<circle cx="322.9" cy="205.7" r="1.8" fill="#6a6a6a" stroke="#9a9a9a" stroke-width="0.4" opacity="0.92"/>
<circle cx="326.2" cy="207.3" r="1.8" fill="#6a6a6a" stroke="#9a9a9a" stroke-width="0.4" opacity="0.92"/>
<circle cx="327.9" cy="205.0" r="1.8" fill="#6a6a6a" stroke="#9a9a9a" stroke-width="0.4" opacity="0.92"/>
<circle cx="335.0" cy="203.5" r="1.8" fill="#6a6a6a" stroke="#9a9a9a" stroke-width="0.4" opacity="0.92"/>
<circle cx="308.6" cy="210.1" r="1.8" fill="#6a6a6a" stroke="#9a9a9a" stroke-width="0.4" opacity="0.92"/>
<circle cx="311.9" cy="209.5" r="1.8" fill="#6a6a6a" stroke="#9a9a9a" stroke-width="0.4" opacity="0.92"/>
<circle cx="309.7" cy="213.8" r="1.8" fill="#6a6a6a" stroke="#9a9a9a" stroke-width="0.4" opacity="0.92"/>
<circle cx="318.5" cy="215.0" r="1.8" fill="#6a6a6a" stroke="#9a9a9a" stroke-width="0.4" opacity="0.92"/>
<circle cx="326.2" cy="212.7" r="1.8" fill="#6a6a6a" stroke="#9a9a9a" stroke-width="0.4" opacity="0.92"/>
<circle cx="332.7" cy="214.5" r="1.8" fill="#6a6a6a" stroke="#9a9a9a" stroke-width="0.4" opacity="0.92"/>
<circle cx="333.8" cy="211.6" r="1.8" fill="#6a6a6a" stroke="#9a9a9a" stroke-width="0.4" opacity="0.92"/>
<circle cx="315.1" cy="228.5" r="1.8" fill="#6a6a6a" stroke="#9a9a9a" stroke-width="0.4" opacity="0.92"/>
<circle cx="311.3" cy="238.6" r="1.8" fill="#6a6a6a" stroke="#9a9a9a" stroke-width="0.4" opacity="0.92"/>
<circle cx="325.9" cy="240.7" r="1.8" fill="#6a6a6a" stroke="#9a9a9a" stroke-width="0.4" opacity="0.92"/>
<circle cx="329.4" cy="234.4" r="1.8" fill="#6a6a6a" stroke="#9a9a9a" stroke-width="0.4" opacity="0.92"/>
<circle cx="327.8" cy="231.4" r="1.8" fill="#6a6a6a" stroke="#9a9a9a" stroke-width="0.4" opacity="0.92"/>
<circle cx="310.8" cy="232.0" r="1.8" fill="#6a6a6a" stroke="#9a9a9a" stroke-width="0.4" opacity="0.92"/>
<circle cx="308.1" cy="219.2" r="1.8" fill="#6a6a6a" stroke="#9a9a9a" stroke-width="0.4" opacity="0.92"/>
<circle cx="328.9" cy="216.3" r="1.8" fill="#6a6a6a" stroke="#9a9a9a" stroke-width="0.4" opacity="0.92"/>
<circle cx="310.5" cy="217.9" r="1.8" fill="#6a6a6a" stroke="#9a9a9a" stroke-width="0.4" opacity="0.92"/>
<circle cx="331.8" cy="220.2" r="1.8" fill="#6a6a6a" stroke="#9a9a9a" stroke-width="0.4" opacity="0.92"/>
<circle cx="308.6" cy="239.4" r="1.8" fill="#6a6a6a" stroke="#9a9a9a" stroke-width="0.4" opacity="0.92"/>
<circle cx="311.3" cy="239.5" r="1.8" fill="#6a6a6a" stroke="#9a9a9a" stroke-width="0.4" opacity="0.92"/>
<circle cx="326.2" cy="239.2" r="1.8" fill="#6a6a6a" stroke="#9a9a9a" stroke-width="0.4" opacity="0.92"/>
<circle cx="333.7" cy="231.8" r="1.8" fill="#6a6a6a" stroke="#9a9a9a" stroke-width="0.4" opacity="0.92"/>
<circle cx="329.6" cy="216.1" r="1.8" fill="#6a6a6a" stroke="#9a9a9a" stroke-width="0.4" opacity="0.92"/>
<circle cx="328.7" cy="229.8" r="1.8" fill="#6a6a6a" stroke="#9a9a9a" stroke-width="0.4" opacity="0.92"/>
<circle cx="327.3" cy="218.1" r="1.8" fill="#6a6a6a" stroke="#9a9a9a" stroke-width="0.4" opacity="0.92"/>
<circle cx="328.2" cy="242.1" r="1.8" fill="#6a6a6a" stroke="#9a9a9a" stroke-width="0.4" opacity="0.92"/>
<circle cx="309.7" cy="224.4" r="1.8" fill="#6a6a6a" stroke="#9a9a9a" stroke-width="0.4" opacity="0.92"/>
<circle cx="323.2" cy="239.0" r="1.8" fill="#6a6a6a" stroke="#9a9a9a" stroke-width="0.4" opacity="0.92"/>
<circle cx="314.5" cy="220.2" r="1.8" fill="#6a6a6a" stroke="#9a9a9a" stroke-width="0.4" opacity="0.92"/>
<circle cx="314.7" cy="232.9" r="1.8" fill="#6a6a6a" stroke="#9a9a9a" stroke-width="0.4" opacity="0.92"/>
<circle cx="328.3" cy="226.4" r="1.8" fill="#6a6a6a" stroke="#9a9a9a" stroke-width="0.4" opacity="0.92"/>
<circle cx="317.9" cy="226.5" r="1.8" fill="#6a6a6a" stroke="#9a9a9a" stroke-width="0.4" opacity="0.92"/>
<circle cx="317.5" cy="227.1" r="1.8" fill="#6a6a6a" stroke="#9a9a9a" stroke-width="0.4" opacity="0.92"/>
<circle cx="310.2" cy="229.5" r="1.8" fill="#6a6a6a" stroke="#9a9a9a" stroke-width="0.4" opacity="0.92"/>
<circle cx="334.3" cy="227.0" r="1.8" fill="#6a6a6a" stroke="#9a9a9a" stroke-width="0.4" opacity="0.92"/>
<circle cx="328.2" cy="219.7" r="1.8" fill="#6a6a6a" stroke="#9a9a9a" stroke-width="0.4" opacity="0.92"/>
<circle cx="326.7" cy="236.9" r="1.8" fill="#6a6a6a" stroke="#9a9a9a" stroke-width="0.4" opacity="0.92"/>
<circle cx="326.2" cy="230.0" r="1.8" fill="#6a6a6a" stroke="#9a9a9a" stroke-width="0.4" opacity="0.92"/>
<circle cx="321.1" cy="233.6" r="1.8" fill="#6a6a6a" stroke="#9a9a9a" stroke-width="0.4" opacity="0.92"/>
<circle cx="332.2" cy="219.3" r="1.8" fill="#6a6a6a" stroke="#9a9a9a" stroke-width="0.4" opacity="0.92"/>
<circle cx="310.6" cy="236.7" r="1.8" fill="#6a6a6a" stroke="#9a9a9a" stroke-width="0.4" opacity="0.92"/>
<circle cx="332.7" cy="230.0" r="1.8" fill="#6a6a6a" stroke="#9a9a9a" stroke-width="0.4" opacity="0.92"/>
<circle cx="320.0" cy="235.8" r="1.8" fill="#6a6a6a" stroke="#9a9a9a" stroke-width="0.4" opacity="0.92"/>
<circle cx="313.0" cy="222.8" r="1.8" fill="#6a6a6a" stroke="#9a9a9a" stroke-width="0.4" opacity="0.92"/>
<circle cx="313.4" cy="232.0" r="1.8" fill="#6a6a6a" stroke="#9a9a9a" stroke-width="0.4" opacity="0.92"/>
<circle cx="316.5" cy="221.7" r="1.8" fill="#6a6a6a" stroke="#9a9a9a" stroke-width="0.4" opacity="0.92"/>
<circle cx="326.7" cy="242.6" r="1.8" fill="#6a6a6a" stroke="#9a9a9a" stroke-width="0.4" opacity="0.92"/>
<circle cx="316.0" cy="235.5" r="1.8" fill="#6a6a6a" stroke="#9a9a9a" stroke-width="0.4" opacity="0.92"/>
<circle cx="319.2" cy="239.8" r="1.8" fill="#6a6a6a" stroke="#9a9a9a" stroke-width="0.4" opacity="0.92"/>
<circle cx="323.8" cy="222.7" r="1.8" fill="#6a6a6a" stroke="#9a9a9a" stroke-width="0.4" opacity="0.92"/>
<circle cx="313.9" cy="215.7" r="1.8" fill="#6a6a6a" stroke="#9a9a9a" stroke-width="0.4" opacity="0.92"/>
<circle cx="320.9" cy="226.1" r="1.8" fill="#6a6a6a" stroke="#9a9a9a" stroke-width="0.4" opacity="0.92"/>
<circle cx="312.7" cy="225.5" r="1.8" fill="#6a6a6a" stroke="#9a9a9a" stroke-width="0.4" opacity="0.92"/>
<circle cx="316.7" cy="237.5" r="1.8" fill="#6a6a6a" stroke="#9a9a9a" stroke-width="0.4" opacity="0.92"/>
<circle cx="311.9" cy="243.7" r="1.8" fill="#6a6a6a" stroke="#9a9a9a" stroke-width="0.4" opacity="0.92"/>
<circle cx="320.9" cy="232.4" r="1.8" fill="#6a6a6a" stroke="#9a9a9a" stroke-width="0.4" opacity="0.92"/>
<circle cx="320.6" cy="239.2" r="1.8" fill="#6a6a6a" stroke="#9a9a9a" stroke-width="0.4" opacity="0.92"/>
<circle cx="330.2" cy="231.2" r="1.8" fill="#6a6a6a" stroke="#9a9a9a" stroke-width="0.4" opacity="0.92"/>
<circle cx="321.0" cy="235.9" r="1.8" fill="#6a6a6a" stroke="#9a9a9a" stroke-width="0.4" opacity="0.92"/>
<circle cx="331.1" cy="226.6" r="1.8" fill="#6a6a6a" stroke="#9a9a9a" stroke-width="0.4" opacity="0.92"/>
<circle cx="327.8" cy="242.8" r="1.8" fill="#6a6a6a" stroke="#9a9a9a" stroke-width="0.4" opacity="0.92"/>
<circle cx="320.6" cy="221.7" r="1.8" fill="#6a6a6a" stroke="#9a9a9a" stroke-width="0.4" opacity="0.92"/>
<circle cx="314.3" cy="235.8" r="1.8" fill="#6a6a6a" stroke="#9a9a9a" stroke-width="0.4" opacity="0.92"/>
<circle cx="326.2" cy="242.8" r="1.8" fill="#6a6a6a" stroke="#9a9a9a" stroke-width="0.4" opacity="0.92"/>
<circle cx="331.1" cy="222.0" r="1.8" fill="#6a6a6a" stroke="#9a9a9a" stroke-width="0.4" opacity="0.92"/>
<circle cx="313.1" cy="222.5" r="1.8" fill="#6a6a6a" stroke="#9a9a9a" stroke-width="0.4" opacity="0.92"/>
<circle cx="313.1" cy="235.4" r="1.8" fill="#6a6a6a" stroke="#9a9a9a" stroke-width="0.4" opacity="0.92"/>
<circle cx="331.2" cy="241.1" r="1.8" fill="#6a6a6a" stroke="#9a9a9a" stroke-width="0.4" opacity="0.92"/>
<line x1="307.3" y1="221.7" x2="336.3" y2="218.5" stroke="#2a2a2a" stroke-width="1.2"/>
<path d="M368.0 201.5 L381.0 199.5 L395.0 193.0 L395.0 201.0 L381.0 203.5 L368.0 207.0 Z" fill="#bdbdbd" opacity="0.55"/>
<circle cx="387.4" cy="134.3" r="1.8" fill="#6a6a6a" stroke="#9a9a9a" stroke-width="0.4" opacity="0.92"/>
<circle cx="371.2" cy="154.5" r="1.8" fill="#6a6a6a" stroke="#9a9a9a" stroke-width="0.4" opacity="0.92"/>
<circle cx="394.5" cy="161.2" r="1.8" fill="#6a6a6a" stroke="#9a9a9a" stroke-width="0.4" opacity="0.92"/>
<circle cx="369.0" cy="170.2" r="1.8" fill="#6a6a6a" stroke="#9a9a9a" stroke-width="0.4" opacity="0.92"/>
<circle cx="371.9" cy="174.3" r="1.8" fill="#6a6a6a" stroke="#9a9a9a" stroke-width="0.4" opacity="0.92"/>
<circle cx="372.6" cy="175.7" r="1.8" fill="#6a6a6a" stroke="#9a9a9a" stroke-width="0.4" opacity="0.92"/>
<circle cx="380.7" cy="176.4" r="1.8" fill="#6a6a6a" stroke="#9a9a9a" stroke-width="0.4" opacity="0.92"/>
<circle cx="383.8" cy="178.1" r="1.8" fill="#6a6a6a" stroke="#9a9a9a" stroke-width="0.4" opacity="0.92"/>
<circle cx="394.5" cy="179.8" r="1.8" fill="#6a6a6a" stroke="#9a9a9a" stroke-width="0.4" opacity="0.92"/>
<circle cx="377.4" cy="181.2" r="1.8" fill="#6a6a6a" stroke="#9a9a9a" stroke-width="0.4" opacity="0.92"/>
<circle cx="370.7" cy="182.9" r="1.8" fill="#6a6a6a" stroke="#9a9a9a" stroke-width="0.4" opacity="0.92"/>
<circle cx="388.6" cy="180.5" r="1.8" fill="#6a6a6a" stroke="#9a9a9a" stroke-width="0.4" opacity="0.92"/>
<circle cx="373.6" cy="185.2" r="1.8" fill="#6a6a6a" stroke="#9a9a9a" stroke-width="0.4" opacity="0.92"/>
<circle cx="371.9" cy="188.8" r="1.8" fill="#6a6a6a" stroke="#9a9a9a" stroke-width="0.4" opacity="0.92"/>
<circle cx="385.0" cy="187.6" r="1.8" fill="#6a6a6a" stroke="#9a9a9a" stroke-width="0.4" opacity="0.92"/>
<circle cx="369.5" cy="190.7" r="1.8" fill="#6a6a6a" stroke="#9a9a9a" stroke-width="0.4" opacity="0.92"/>
<circle cx="380.2" cy="191.2" r="1.8" fill="#6a6a6a" stroke="#9a9a9a" stroke-width="0.4" opacity="0.92"/>
<circle cx="392.6" cy="190.0" r="1.8" fill="#6a6a6a" stroke="#9a9a9a" stroke-width="0.4" opacity="0.92"/>
<circle cx="368.3" cy="194.8" r="1.8" fill="#6a6a6a" stroke="#9a9a9a" stroke-width="0.4" opacity="0.92"/>
<circle cx="375.0" cy="198.3" r="1.8" fill="#6a6a6a" stroke="#9a9a9a" stroke-width="0.4" opacity="0.92"/>
<circle cx="382.6" cy="196.4" r="1.8" fill="#6a6a6a" stroke="#9a9a9a" stroke-width="0.4" opacity="0.92"/>
<circle cx="387.4" cy="196.0" r="1.8" fill="#6a6a6a" stroke="#9a9a9a" stroke-width="0.4" opacity="0.92"/>
<circle cx="370.7" cy="199.5" r="1.8" fill="#6a6a6a" stroke="#9a9a9a" stroke-width="0.4" opacity="0.92"/>
<circle cx="392.1" cy="200.7" r="1.8" fill="#6a6a6a" stroke="#9a9a9a" stroke-width="0.4" opacity="0.92"/>
<circle cx="369.5" cy="204.3" r="1.8" fill="#6a6a6a" stroke="#9a9a9a" stroke-width="0.4" opacity="0.92"/>
<circle cx="378.3" cy="206.7" r="1.8" fill="#6a6a6a" stroke="#9a9a9a" stroke-width="0.4" opacity="0.92"/>
<circle cx="383.8" cy="207.9" r="1.8" fill="#6a6a6a" stroke="#9a9a9a" stroke-width="0.4" opacity="0.92"/>
<circle cx="393.3" cy="206.7" r="1.8" fill="#6a6a6a" stroke="#9a9a9a" stroke-width="0.4" opacity="0.92"/>
<circle cx="374.3" cy="210.2" r="1.8" fill="#6a6a6a" stroke="#9a9a9a" stroke-width="0.4" opacity="0.92"/>
<circle cx="381.4" cy="209.8" r="1.8" fill="#6a6a6a" stroke="#9a9a9a" stroke-width="0.4" opacity="0.92"/>
<circle cx="371.9" cy="215.0" r="1.8" fill="#6a6a6a" stroke="#9a9a9a" stroke-width="0.4" opacity="0.92"/>
<circle cx="388.6" cy="212.6" r="1.8" fill="#6a6a6a" stroke="#9a9a9a" stroke-width="0.4" opacity="0.92"/>
<circle cx="392.6" cy="213.8" r="1.8" fill="#6a6a6a" stroke="#9a9a9a" stroke-width="0.4" opacity="0.92"/>
<circle cx="370.2" cy="216.2" r="1.8" fill="#6a6a6a" stroke="#9a9a9a" stroke-width="0.4" opacity="0.92"/>
<circle cx="389.3" cy="219.3" r="1.8" fill="#6a6a6a" stroke="#9a9a9a" stroke-width="0.4" opacity="0.92"/>
<circle cx="374.3" cy="228.1" r="1.8" fill="#6a6a6a" stroke="#9a9a9a" stroke-width="0.4" opacity="0.92"/>
<circle cx="377.9" cy="227.4" r="1.8" fill="#6a6a6a" stroke="#9a9a9a" stroke-width="0.4" opacity="0.92"/>
<circle cx="373.7" cy="229.9" r="1.8" fill="#6a6a6a" stroke="#9a9a9a" stroke-width="0.4" opacity="0.92"/>
<circle cx="380.7" cy="230.9" r="1.8" fill="#6a6a6a" stroke="#9a9a9a" stroke-width="0.4" opacity="0.92"/>
<circle cx="375.4" cy="234.5" r="1.8" fill="#6a6a6a" stroke="#9a9a9a" stroke-width="0.4" opacity="0.92"/>
<circle cx="378.5" cy="238.4" r="1.8" fill="#6a6a6a" stroke="#9a9a9a" stroke-width="0.4" opacity="0.92"/>
<circle cx="375.8" cy="240.1" r="1.8" fill="#6a6a6a" stroke="#9a9a9a" stroke-width="0.4" opacity="0.92"/>
<circle cx="373.2" cy="242.2" r="1.8" fill="#6a6a6a" stroke="#9a9a9a" stroke-width="0.4" opacity="0.92"/>
<circle cx="391.3" cy="215.0" r="1.8" fill="#6a6a6a" stroke="#9a9a9a" stroke-width="0.4" opacity="0.92"/>
<line x1="367.9" y1="204.3" x2="395.2" y2="197.1" stroke="#2a2a2a" stroke-width="1.2"/>
<rect x="247.4" y="129.3" width="29.900000000000006" height="117.6" fill="none" stroke="#c4c4c4" stroke-width="0.7"/>
<rect x="306.4" y="129.3" width="30.400000000000034" height="117.6" fill="none" stroke="#c4c4c4" stroke-width="0.7"/>
<rect x="366.4" y="130.2" width="30.0" height="117.70000000000002" fill="none" stroke="#c4c4c4" stroke-width="0.7"/>
</svg></body></html>
